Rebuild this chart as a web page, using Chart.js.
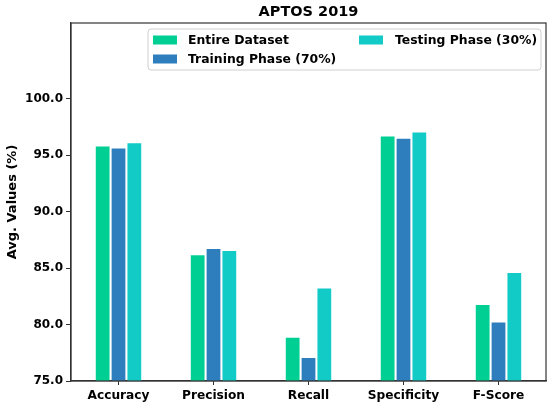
<!DOCTYPE html>
<html>
<head>
<meta charset="utf-8">
<script src="https://cdn.jsdelivr.net/npm/chart.js@4/dist/chart.umd.min.js"></script>
<style>
  html, body { margin: 0; padding: 0; background: #fff; }
  #wrap { width: 550px; height: 408px; }
</style>
</head>
<body>
<div id="wrap"><canvas id="chart"></canvas></div>
<script>
// values
const categories = ["Accuracy", "Precision", "Recall", "Specificity", "F-Score"];
const seriesNames = ["Entire Dataset", "Training Phase (70%)", "Testing Phase (30%)"];
const entireDataset = [95.76, 86.13, 78.83, 96.64, 81.74];
const trainingPhase = [95.58, 86.69, 77.03, 96.44, 80.18];
const testingPhase = [96.05, 86.51, 83.20, 97.00, 84.57];
const yTicks = [75, 80, 85, 90, 95, 100];

const colors = ["#00cf93", "#2e7ebe", "#12cac6"];
const FONT = "'DejaVu Sans', sans-serif";

// frame round the plot area, like the matplotlib spines
const framePlugin = {
  id: "frame",
  afterDraw(chart) {
    const { ctx, chartArea: a } = chart;
    ctx.save();
    ctx.strokeStyle = "#333";
    ctx.lineWidth = 1.2;
    ctx.strokeRect(a.left, a.top, a.right - a.left, a.bottom - a.top);
    ctx.restore();
  }
};

// two column legend, column-major like matplotlib (ncol=2)
const legendPlugin = {
  id: "boxLegend",
  afterDraw(chart) {
    const ctx = chart.ctx;
    const ds = chart.data.datasets;
    const box = { x: 148, y: 29, w: 393, h: 41 };
    ctx.save();
    ctx.fillStyle = "rgba(255,255,255,0.85)";
    ctx.strokeStyle = "#d0d0d0";
    ctx.lineWidth = 1;
    ctx.beginPath();
    ctx.roundRect(box.x, box.y, box.w, box.h, 3);
    ctx.fill();
    ctx.stroke();
    const slots = [
      { sx: 153, tx: 188, cy: 40 },
      { sx: 153, tx: 188, cy: 59 },
      { sx: 359, tx: 395, cy: 40 }
    ];
    ctx.font = "bold 12.4px " + FONT;
    ctx.textBaseline = "middle";
    ds.forEach((d, i) => {
      const s = slots[i];
      ctx.fillStyle = d.backgroundColor;
      ctx.fillRect(s.sx, s.cy - 4.5, 24, 9);
      ctx.fillStyle = "#000";
      ctx.fillText(d.label, s.tx, s.cy + 0.5);
    });
    ctx.restore();
  }
};

new Chart(document.getElementById("chart"), {
  type: "bar",
  data: {
    labels: categories,
    datasets: [
      { label: seriesNames[0], data: entireDataset, backgroundColor: colors[0] },
      { label: seriesNames[1], data: trainingPhase, backgroundColor: colors[1] },
      { label: seriesNames[2], data: testingPhase, backgroundColor: colors[2] }
    ]
  },
  options: {
    responsive: true,
    maintainAspectRatio: false,
    animation: false,
    devicePixelRatio: 1,
    layout: { padding: { top: 0, right: 4, bottom: 0, left: 0 } },
    datasets: {
      bar: { barPercentage: 0.87, categoryPercentage: 0.5, borderWidth: 0 }
    },
    plugins: {
      legend: { display: false },
      tooltip: { enabled: false },
      title: {
        display: true,
        text: "APTOS 2019",
        fullSize: false,
        color: "#000",
        font: { family: FONT, size: 14.5, weight: "bold" },
        padding: { top: 3.8, bottom: 1.8 }
      }
    },
    scales: {
      x: {
        offset: true,
        grid: { offset: false, drawOnChartArea: false, drawTicks: true, tickLength: 4, tickColor: "#333" },
        border: { display: true, color: "#333", width: 1.2 },
        ticks: { color: "#000", padding: 4, font: { family: FONT, size: 12.2, weight: "bold" } },
        afterFit(scale) { scale.height = 27; }
      },
      y: {
        min: 75,
        max: 106.7,
        grid: { drawOnChartArea: false, drawTicks: true, tickLength: 5, tickColor: "#333" },
        border: { display: true, color: "#333", width: 1.2 },
        afterBuildTicks(scale) { scale.ticks = yTicks.map(v => ({ value: v })); },
        ticks: {
          color: "#000",
          padding: 3,
          font: { family: FONT, size: 12, weight: "bold" },
          callback: v => Number(v).toFixed(1)
        },
        title: {
          display: true,
          text: "Avg. Values (%)",
          color: "#000",
          padding: { top: 5, bottom: 0 },
          font: { family: FONT, size: 13, weight: "bold" }
        },
        afterFit(scale) { scale.width = 71; }
      }
    }
  },
  plugins: [framePlugin, legendPlugin]
});
</script>
</body>
</html>
